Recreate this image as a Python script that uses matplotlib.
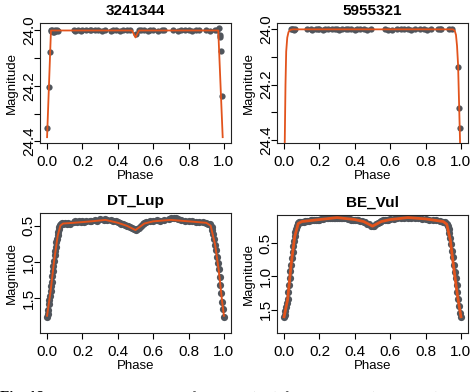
import numpy as np
import matplotlib.pyplot as plt
from matplotlib.ticker import FixedLocator, FuncFormatter

plt.rcParams['font.family'] = ['Liberation Sans', 'DejaVu Sans']

W, H = 474, 392
pt_col = '#50555c'
ln_col = '#e2531c'

# ---- 3241344 ----
ph_a = [0.0, 0.012, 0.015, 0.02, 0.025, 0.03, 0.035, 0.04, 0.045, 0.05, 0.055, 0.06,
        0.15, 0.16, 0.175, 0.19, 0.2, 0.22, 0.24, 0.25, 0.27, 0.29, 0.31, 0.33, 0.36,
        0.37, 0.39, 0.41, 0.43, 0.45, 0.47, 0.5, 0.52, 0.53, 0.55, 0.57, 0.58, 0.6,
        0.63, 0.65, 0.66, 0.71, 0.74, 0.76, 0.78, 0.8, 0.82, 0.84, 0.86, 0.9, 0.92,
        0.95, 0.96, 0.97, 0.975, 0.978, 0.985, 0.99]
mag_a = [24.352, 24.204, 24.079, 23.998, 24.002, 23.999, 24.004, 24.006, 24.0, 24.002, 24.0, 24.001,
         24.0, 24.001, 24.0, 24.002, 23.999, 24.0, 23.998, 24.0, 23.997, 24.0, 24.001, 24.0, 24.001,
         23.999, 24.0, 24.001, 24.0, 24.0, 23.999, 24.014, 24.0, 23.999, 24.0, 24.001, 24.0, 24.0,
         24.001, 24.0, 24.0, 24.0, 24.001, 24.0, 23.999, 24.0, 24.001, 24.0, 24.0, 24.0, 24.001,
         24.0, 23.999, 23.99, 24.015, 24.022, 24.075, 24.238]
fit_ph_a = [0.0, 0.022, 0.48, 0.5, 0.52, 0.968, 0.993]
fit_mag_a = [24.385, 24.0, 24.0, 24.025, 24.0, 24.0, 24.385]

# ---- 5955321 ----
ph_b = [0.04, 0.045, 0.05, 0.055, 0.06, 0.13, 0.15, 0.16, 0.18, 0.19, 0.2, 0.22, 0.23,
        0.25, 0.27, 0.29, 0.3, 0.31, 0.33, 0.35, 0.36, 0.38, 0.4, 0.41, 0.43, 0.45,
        0.47, 0.49, 0.57, 0.59, 0.61, 0.64, 0.66, 0.68, 0.7, 0.72, 0.74, 0.77, 0.79,
        0.81, 0.83, 0.87, 0.88, 0.89, 0.93, 0.95, 0.985, 0.99, 0.995]
mag_b = [24.0, 23.999, 24.0, 24.001, 24.0, 24.0, 24.0, 24.001, 23.999, 24.0, 24.0, 24.001, 23.999,
         24.0, 24.0, 23.997, 24.0, 24.002, 24.0, 23.999, 24.0, 24.0, 24.001, 24.0, 23.999, 24.0,
         24.002, 24.0, 24.0, 24.001, 24.002, 24.0, 23.999, 24.0, 24.0, 24.001, 24.0, 24.0, 24.0,
         24.001, 24.0, 24.0, 23.998, 24.0, 24.0, 24.0, 24.135, 24.283, 24.355]
fit_ph_b = [0.003, 0.008, 0.012, 0.018, 0.025, 0.035, 0.05, 0.955, 0.965, 0.972, 0.978, 0.984, 0.99, 0.996]
fit_mag_b = [24.45, 24.2, 24.08, 24.03, 24.01, 24.002, 24.0, 24.0, 24.005, 24.02, 24.06, 24.13, 24.28, 24.43]

# ---- DT_Lup ----
ph_c = [0.0, 0.003, 0.006, 0.01, 0.013, 0.016, 0.02, 0.023, 0.026, 0.03, 0.033, 0.036,
        0.04, 0.043, 0.046, 0.05, 0.053, 0.056, 0.06, 0.063, 0.066, 0.07, 0.075, 0.08,
        0.085, 0.09, 0.1, 0.11, 0.12, 0.13, 0.15, 0.16, 0.17, 0.18, 0.19, 0.2, 0.21,
        0.22, 0.24, 0.25, 0.27, 0.28, 0.3, 0.32, 0.33, 0.34, 0.36, 0.37, 0.39, 0.4,
        0.41, 0.42, 0.43, 0.44, 0.45, 0.46, 0.47, 0.48, 0.49, 0.5, 0.51, 0.52, 0.53,
        0.54, 0.55, 0.56, 0.58, 0.6, 0.62, 0.64, 0.66, 0.69, 0.7, 0.72, 0.73, 0.74,
        0.76, 0.78, 0.8, 0.82, 0.84, 0.86, 0.88, 0.9, 0.91, 0.92, 0.93, 0.935, 0.94,
        0.945, 0.95, 0.955, 0.96, 0.965, 0.97, 0.975, 0.98, 0.985, 0.99, 0.995, 1.0]
mag_c = [1.76, 1.72, 1.66, 1.58, 1.52, 1.47, 1.40, 1.33, 1.27, 1.19, 1.12, 1.06,
         0.98, 0.91, 0.85, 0.79, 0.73, 0.68, 0.63, 0.58, 0.55, 0.52, 0.49, 0.47,
         0.46, 0.47, 0.46, 0.47, 0.46, 0.47, 0.45, 0.44, 0.45, 0.44, 0.45, 0.44, 0.45,
         0.43, 0.43, 0.44, 0.42, 0.43, 0.41, 0.42, 0.41, 0.42, 0.42, 0.43, 0.44, 0.45,
         0.46, 0.47, 0.48, 0.49, 0.50, 0.51, 0.52, 0.53, 0.55, 0.56, 0.55, 0.53, 0.50,
         0.48, 0.46, 0.45, 0.44, 0.43, 0.42, 0.43, 0.42, 0.41, 0.40, 0.39, 0.40, 0.41,
         0.42, 0.43, 0.44, 0.44, 0.45, 0.45, 0.45, 0.46, 0.47, 0.48, 0.52, 0.56, 0.62,
         0.68, 0.76, 0.84, 0.93, 1.01, 1.10, 1.21, 1.32, 1.43, 1.55, 1.65, 1.76]
fit_ph_c = [0.0, 0.02, 0.04, 0.06, 0.075, 0.09, 0.15, 0.25, 0.33, 0.4, 0.45, 0.5,
            0.55, 0.6, 0.7, 0.8, 0.9, 0.925, 0.95, 0.97, 0.99, 1.0]
fit_mag_c = [1.74, 1.40, 0.98, 0.64, 0.50, 0.47, 0.46, 0.44, 0.42, 0.46, 0.50, 0.56,
             0.47, 0.44, 0.42, 0.44, 0.46, 0.50, 0.76, 1.10, 1.55, 1.74]

# ---- BE_Vul ----
ph_d = [0.0, 0.004, 0.008, 0.012, 0.016, 0.02, 0.024, 0.028, 0.032, 0.036, 0.04, 0.044,
        0.048, 0.052, 0.056, 0.06, 0.064, 0.068, 0.072, 0.076, 0.08, 0.085, 0.09, 0.1,
        0.11, 0.12, 0.13, 0.14, 0.15, 0.16, 0.17, 0.18, 0.19, 0.2, 0.21, 0.22, 0.23,
        0.24, 0.25, 0.26, 0.27, 0.28, 0.29, 0.3, 0.31, 0.32, 0.33, 0.34, 0.35, 0.36,
        0.37, 0.38, 0.39, 0.4, 0.41, 0.42, 0.43, 0.44, 0.45, 0.46, 0.47, 0.48, 0.49,
        0.5, 0.51, 0.52, 0.53, 0.54, 0.55, 0.56, 0.57, 0.58, 0.59, 0.6, 0.62, 0.64,
        0.66, 0.68, 0.7, 0.72, 0.74, 0.76, 0.78, 0.8, 0.82, 0.84, 0.86, 0.88, 0.9,
        0.91, 0.92, 0.925, 0.93, 0.935, 0.94, 0.945, 0.95, 0.955, 0.96, 0.965, 0.97,
        0.975, 0.98, 0.985, 0.99, 0.995, 1.0]
mag_d = [1.62, 1.58, 1.52, 1.46, 1.40, 1.34, 1.24, 1.13, 1.02, 0.92, 0.82, 0.72,
         0.63, 0.54, 0.46, 0.39, 0.33, 0.28, 0.24, 0.21, 0.19, 0.18, 0.17, 0.17,
         0.17, 0.16, 0.16, 0.16, 0.15, 0.15, 0.15, 0.14, 0.14, 0.14, 0.13, 0.13, 0.12,
         0.12, 0.12, 0.11, 0.11, 0.11, 0.11, 0.11, 0.11, 0.12, 0.12, 0.12, 0.12, 0.13,
         0.13, 0.14, 0.14, 0.14, 0.15, 0.15, 0.16, 0.16, 0.17, 0.18, 0.20, 0.21, 0.23,
         0.24, 0.23, 0.21, 0.19, 0.17, 0.16, 0.15, 0.15, 0.14, 0.14, 0.13, 0.13, 0.12,
         0.12, 0.11, 0.11, 0.11, 0.12, 0.12, 0.13, 0.13, 0.14, 0.15, 0.15, 0.16, 0.17,
         0.18, 0.20, 0.23, 0.28, 0.34, 0.42, 0.51, 0.61, 0.71, 0.82, 0.93, 1.03,
         1.13, 1.24, 1.34, 1.45, 1.55, 1.62]
fit_ph_d = [0.0, 0.02, 0.04, 0.06, 0.08, 0.1, 0.2, 0.3, 0.4, 0.45, 0.5, 0.55, 0.6,
            0.7, 0.8, 0.9, 0.92, 0.94, 0.96, 0.98, 1.0]
fit_mag_d = [1.61, 1.35, 0.82, 0.40, 0.20, 0.17, 0.14, 0.11, 0.14, 0.17, 0.24, 0.17, 0.14,
             0.11, 0.13, 0.17, 0.21, 0.45, 0.88, 1.28, 1.61]

panels = [
    ('3241344', ph_a, mag_a, fit_ph_a, fit_mag_a, (40, 231, 23, 143), (24.406, 23.973),
     [24.0, 24.1, 24.2, 24.3, 24.4], [24.0, 24.2, 24.4], 1.3, 4.5),
    ('5955321', ph_b, mag_b, fit_ph_b, fit_mag_b, (277, 468, 23, 143), (24.411, 23.977),
     [24.0, 24.1, 24.2, 24.3, 24.4], [24.0, 24.2, 24.4], 1.3, 4.5),
    ('DT_Lup', ph_c, mag_c, fit_ph_c, fit_mag_c, (40, 231, 213, 333), (1.978, 0.325),
     [0.5, 1.0, 1.5], [0.5, 1.0, 1.5], 1.4, 5.2),
    ('BE_Vul', ph_d, mag_d, fit_ph_d, fit_mag_d, (277, 468, 215, 333), (1.855, 0.071),
     [0.5, 1.0, 1.5], [0.5, 1.0, 1.5], 2.0, 5.2),
]

fig = plt.figure(figsize=(W / 100, H / 100), dpi=100)

for name, ph, mag, fph, fmag, box, ylim, yt, ylab, lw, ms in panels:
    l, r, t, b = box
    ax = fig.add_axes([l / W, (H - b) / H, (r - l) / W, (b - t) / H])
    ax.plot(ph, mag, 'o', color=pt_col, ms=ms, mew=0, zorder=2)
    ax.plot(fph, fmag, '-', color=ln_col, lw=lw, zorder=3)
    ax.set_xlim(-0.04, 1.04)
    ax.set_ylim(*ylim)
    ax.set_xticks([0.0, 0.2, 0.4, 0.6, 0.8, 1.0])
    ax.set_xticklabels(['0.0', '0.2', '0.4', '0.6', '0.8', '1.0'])
    ax.yaxis.set_major_locator(FixedLocator(yt))
    ax.yaxis.set_major_formatter(FuncFormatter(
        lambda v, p, ylab=ylab: '%.1f' % v if any(abs(v - s) < 1e-6 for s in ylab) else ''))
    for lab in ax.get_yticklabels():
        lab.set_rotation(90)
        lab.set_va('center')
    ax.tick_params(direction='out', length=4, width=0.8, labelsize=11)
    ax.tick_params(axis='x', pad=4.5)
    ax.tick_params(axis='y', pad=-1)
    for s in ax.spines.values():
        s.set_linewidth(0.8)
        s.set_color('#222222')
    ax.set_title(name, fontsize=11, fontweight='bold', pad=6)
    ax.set_xlabel('Phase', fontsize=9.5)
    ax.set_ylabel('Magnitude', fontsize=9.5)
    ax.xaxis.set_label_coords(0.5, -0.225)
    ax.yaxis.set_label_coords(-0.115, 0.5)

fig.text(0.0, -0.024, 'Fig. 18', fontsize=11, fontweight='bold', family='Liberation Serif',
         va='baseline')
fig.text(0.12, -0.024, 'Example light curves from cell (8,1) from Hadoop (very good)',
         fontsize=11, family='Liberation Serif', va='baseline')

fig.savefig('out.png', dpi=100)
